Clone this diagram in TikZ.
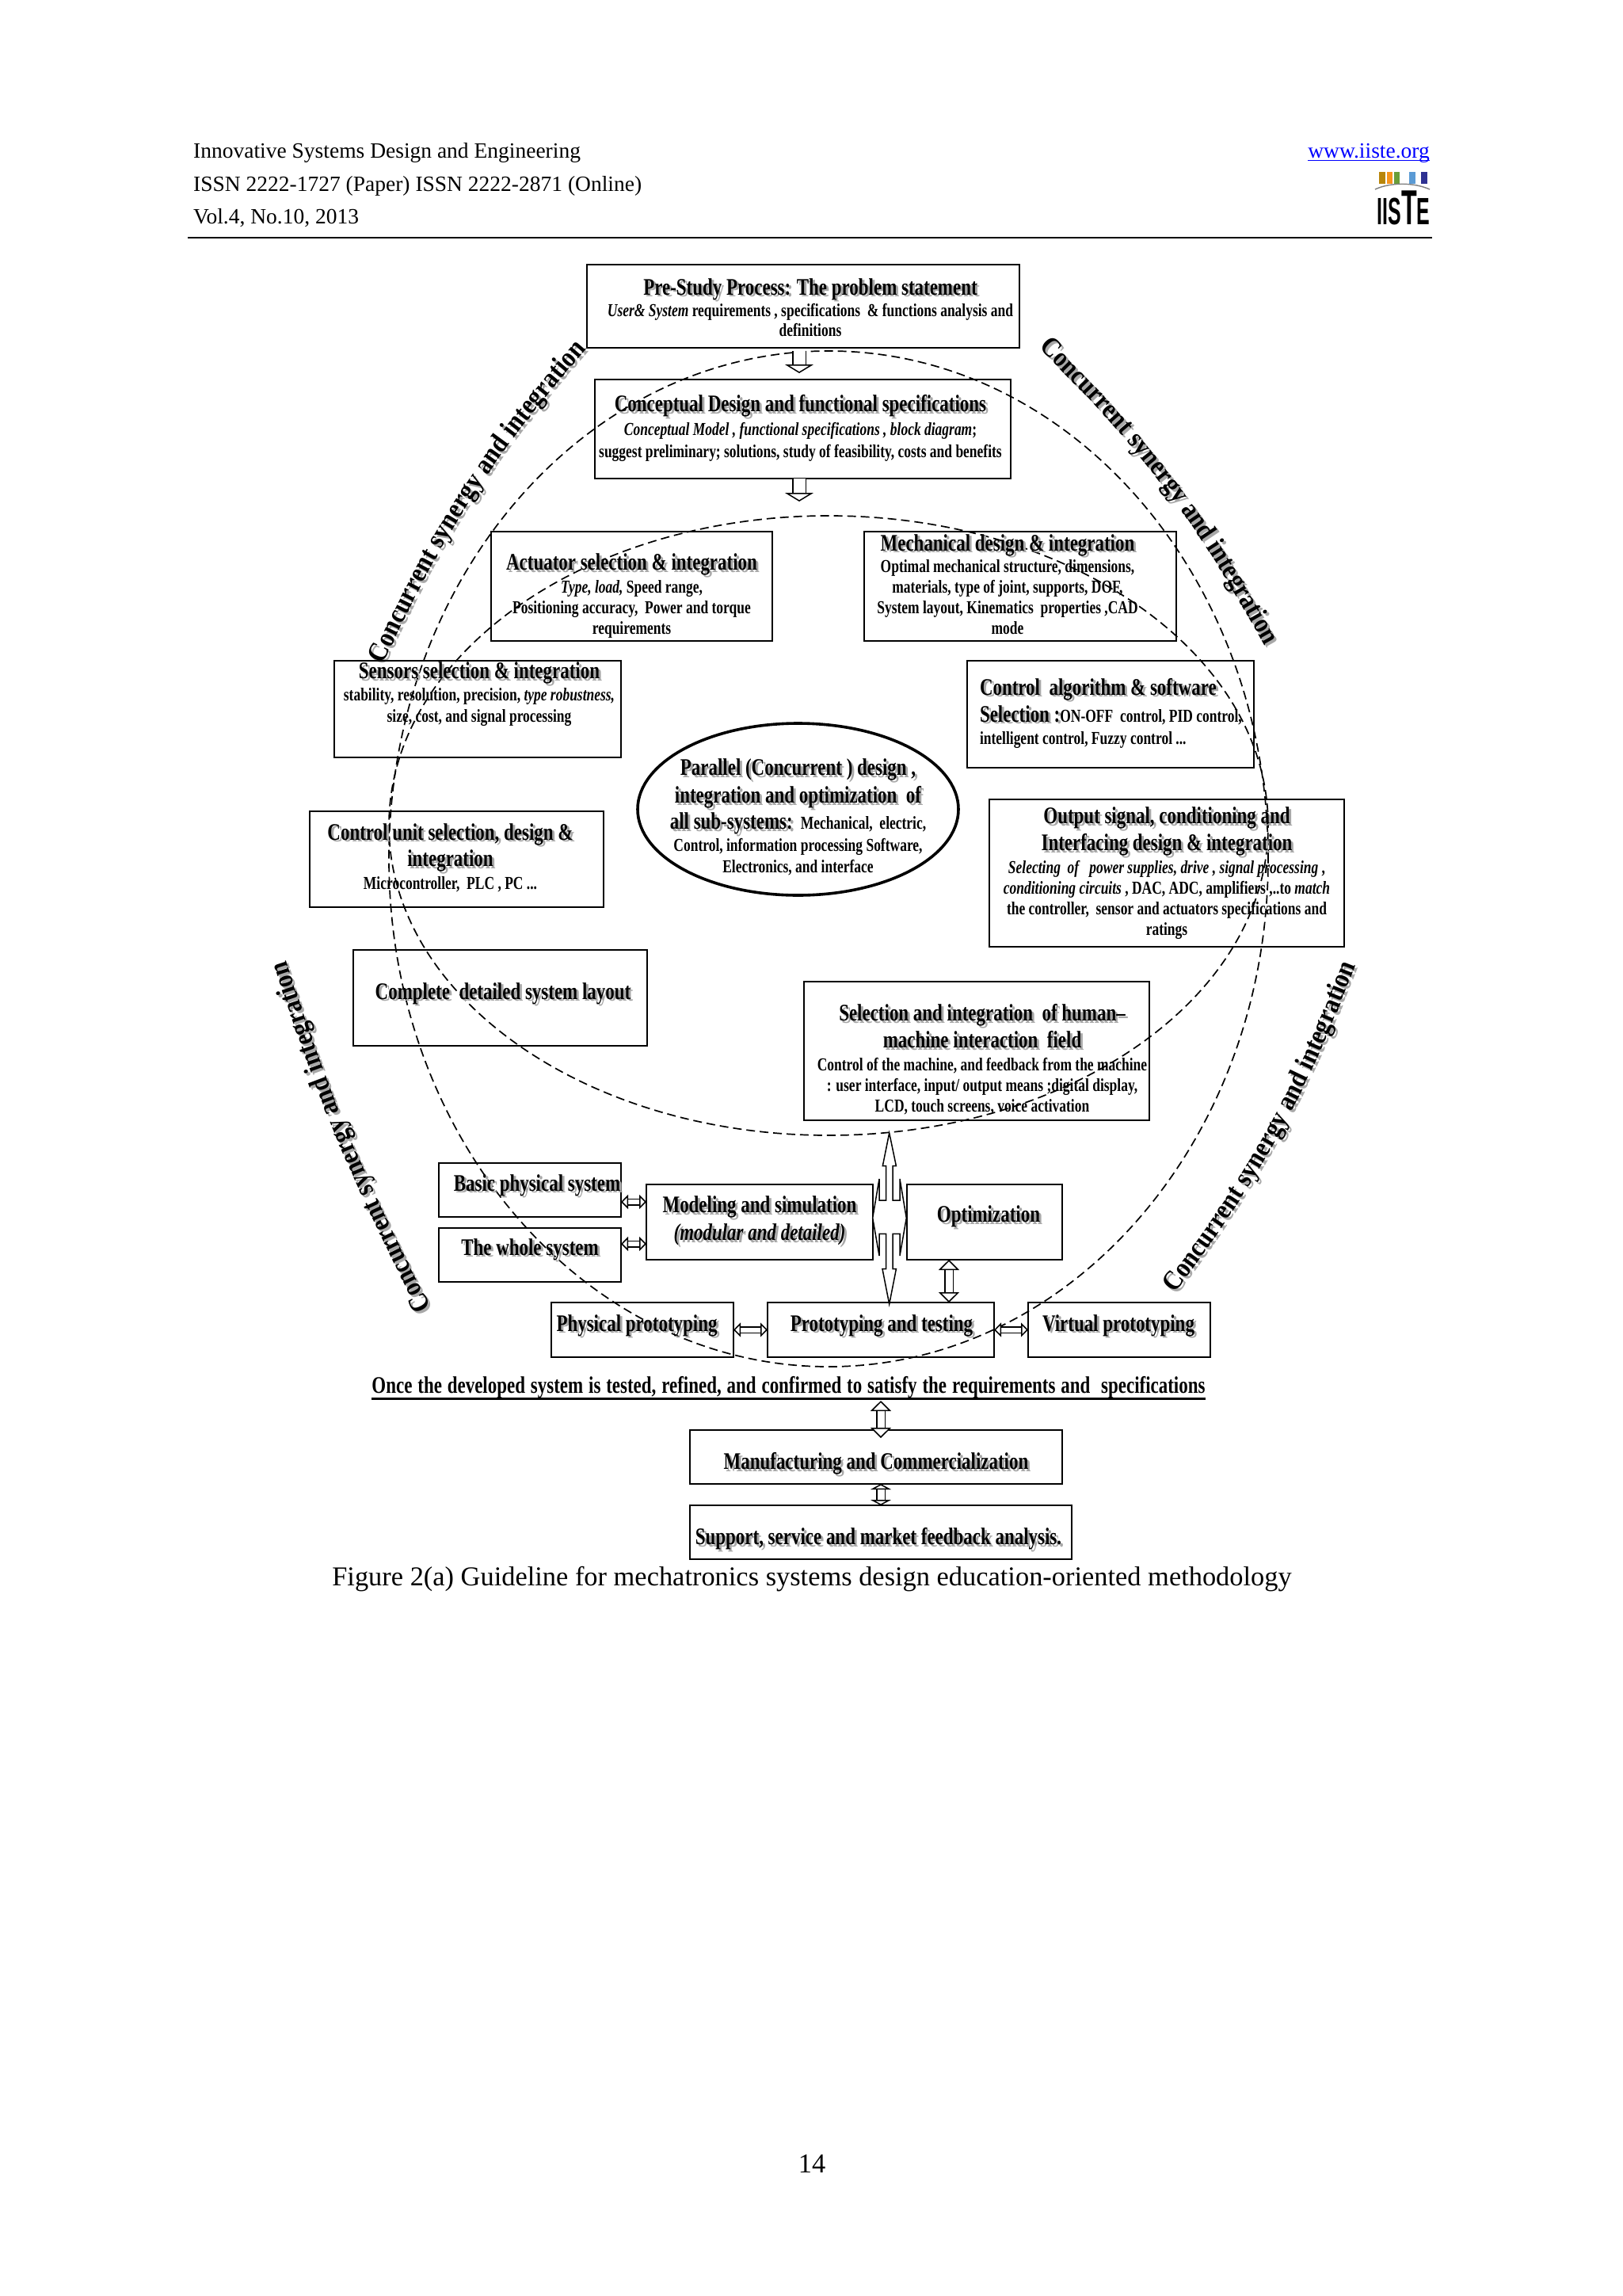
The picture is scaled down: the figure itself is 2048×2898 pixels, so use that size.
\documentclass[tikz,border=0pt]{standalone}
\usepackage{fontspec}
\usepackage{xcolor}
\setmainfont{Liberation Serif}
\newfontfamily\cf[FakeStretch=0.765]{Liberation Serif}
\newfontfamily\cs[FakeStretch=0.76]{Liberation Serif}
\newfontfamily\cvf[FakeStretch=0.88]{Liberation Serif}
\newfontfamily\logof[FakeStretch=0.52]{Liberation Sans}
\usetikzlibrary{arrows.meta,decorations.text,shapes.geometric}
\definecolor{shd}{gray}{0.66}
% inline fonts
\newcommand\shd[1]{\leavevmode\rlap{\raisebox{-2.5pt}{\kern3pt\textcolor{shd}{#1}}}#1}
\newcommand\ttl[1]{{\cf\bfseries\fontsize{30}{30}\selectfont\shd{#1}}}
\newcommand\subt[1]{{\cs\bfseries\fontsize{23}{23}\selectfont #1}}
% a line of a given pitch
\newcommand\lin[2]{\hbox to \hsize{\hss\vrule height .72\dimexpr#1pt\relax depth .28\dimexpr#1pt\relax width 0pt\smash{#2}\hss}}
\newcommand\linl[3]{\hbox to \hsize{\kern#2pt\vrule height .72\dimexpr#1pt\relax depth .28\dimexpr#1pt\relax width 0pt\smash{#3}\hss}}
\newcommand\ctext[4]{\setbox0=\vbox{\hsize=#1\offinterlineskip\parindent0pt #4}%
 \setbox2=\hbox to 0pt{\hss\kern#2pt\kern#2pt\lower\dimexpr(\ht0-\dp0)/2+#3pt\relax\box0\hss}%
 \ht2=0pt\dp2=0pt\box2}
% style, name, x1,y1,x2,y2, dx,dy, lines
\newcommand\bx[9]{\node[#1,minimum width={(#5-#3)*1pt},minimum height={(#6-#4)*1pt}] (#2) at ({(#3+#5)/2},{(#4+#6)/2}) {\ctext{\dimexpr#5pt-#3pt\relax}{#7}{#8}{#9}};}
\newcommand\curv[3]{%
 \path[decorate,decoration={text along path,text align=center,text={|\cvf\fontsize{35}{35}\selectfont\bfseries\color{shd}|Concurrent synergy and integration}}] ([shift={(3pt,-3pt)}]#1) to[#3] ([shift={(3pt,-3pt)}]#2);
 \path[decorate,decoration={text along path,text align=center,text={|\cvf\fontsize{35}{35}\selectfont\bfseries|Concurrent synergy and integration}}] (#1) to[#3] (#2);}
\tikzset{
 box/.style={draw=black,line width=2.2pt,rectangle,inner sep=0pt,outer sep=0pt},
 oval/.style={draw=black,line width=3.6pt,ellipse,inner sep=0pt,outer sep=0pt},
 dashring/.style={draw=black,line width=1.7pt,dash pattern=on 11pt off 6pt},
 harrow/.style={draw=black,double=white,double distance=6pt,line width=1.5pt,
  {Triangle[open,fill=white,width=18pt,length=9pt,line width=1.5pt]}-{Triangle[open,fill=white,width=18pt,length=9pt,line width=1.5pt]}},
 vharrow/.style={draw=black,double=white,double distance=9pt,line width=1.5pt,
  {Triangle[open,fill=white,width=26pt,length=13pt,line width=1.5pt]}-{Triangle[open,fill=white,width=26pt,length=13pt,line width=1.5pt]}},
 tinyvharrow/.style={draw=black,double=white,double distance=9pt,line width=1.5pt,
  {Triangle[open,fill=white,width=26pt,length=7pt,line width=1.5pt]}-{Triangle[open,fill=white,width=26pt,length=7pt,line width=1.5pt]}},
 downarrow/.style={draw=black,double=white,double distance=15pt,line width=1.5pt,
  -{Triangle[open,fill=white,width=36pt,length=11pt,line width=1.5pt]}},
 cross/.style={draw=black,fill=white,line width=1.5pt,line join=miter},
 hdr/.style={anchor=base west,inner sep=0pt,font=\fontsize{27.5}{27.5}\selectfont},
}
\begin{document}
\begin{tikzpicture}[x=1pt,y=-1pt]
\useasboundingbox[fill=white] (0,0) rectangle (2048,2898);
% header
\node[hdr] (h1) at (244,200) {Innovative Systems Design and Engineering};
\node[hdr] (h2) at (244,241) {ISSN 2222-1727 (Paper) ISSN 2222-2871 (Online)};
\node[hdr] (h3) at (244,282) {Vol.4, No.10, 2013};
\node[hdr,anchor=base east,text=blue] (h4) at (1805,200) {\setbox0\hbox{www.iiste.org}\rlap{\rule[-3pt]{\wd0}{1.4pt}}\box0};
\draw[line width=2.6pt] (237,300) -- (1808,300);
% logo
\fill[fill={rgb,255:red,184;green,134;blue,11}] (1740.7,217) rectangle (1748.7,232);
\fill[fill={rgb,255:red,247;green,148;blue,29}] (1750.7,217) rectangle (1758.3,232);
\fill[fill={rgb,255:red,106;green,158;blue,56}] (1760,217) rectangle (1767.3,232);
\fill[fill={rgb,255:red,91;green,155;blue,213}] (1779,217) rectangle (1786.7,232);
\fill[fill={rgb,255:red,46;green,49;blue,146}] (1794.3,217) rectangle (1801.7,232);
\draw[line width=1.4pt,draw=gray] (1736,239) .. controls (1755,230) and (1785,230) .. (1805,239);
\node[anchor=base,inner sep=0pt] (logo) at (1772,283) {\logof\bfseries\fontsize{48}{48}\selectfont IIS\raisebox{-.5pt}{\fontsize{62}{62}\selectfont T}E};
% dashed rings
\draw[dashring] (1046,1084) ellipse [x radius=555pt,y radius=641pt];
\draw[dashring] (1046,1042) ellipse [x radius=555pt,y radius=391pt];
% curved labels
\curv{484,838}{740,441}{bend left=8}
\curv{1310,437}{1598,817}{bend left=8}
\curv{552,1665}{356,1196}{bend left=5}
\curv{1479,1638}{1714,1212}{bend right=8}
% boxes
\bx{box}{pre}{741}{334}{1287}{439}{9}{4}{\lin{31}{\ttl{Pre-Study Process: The problem statement}}\lin{25}{\subt{\itshape User\& System \upshape requirements , specifications \ \& functions analysis and}}\lin{25}{\subt{definitions}}}
\bx{box}{concept}{751}{479}{1276}{604}{-3}{-1}{\lin{33}{\ttl{Conceptual Design and functional specifications}}\lin{29}{\subt{\itshape Conceptual Model , functional specifications , block diagram\upshape;}}\lin{27}{\subt{suggest preliminary; solutions, study of feasibility, costs and benefits}}}
\bx{box}{act}{620}{671}{975}{809}{0}{12}{\lin{33}{\ttl{Actuator selection \& integration}}\lin{27}{\subt{\itshape Type, load, \upshape Speed range,}}\lin{26}{\subt{Positioning accuracy, \ Power and torque}}\lin{26}{\subt{requirements}}}
\bx{box}{mech}{1091}{671}{1485}{809}{-16}{0}{\lin{32}{\ttl{Mechanical design \& integration}}\lin{26}{\subt{Optimal mechanical structure, dimensions,}}\lin{26}{\subt{materials, type of joint, supports, DOF,}}\lin{26}{\subt{System layout, Kinematics \ properties ,CAD}}\lin{26}{\subt{mode}}}
\bx{box}{sens}{422}{834}{784}{956}{2}{-19}{\lin{32}{\ttl{Sensors selection \& integration}}\lin{27}{\subt{stability, resolution, precision, \itshape type robustness,}}\lin{26}{\subt{size, cost, and signal processing}}}
\bx{box}{algo}{1221}{834}{1583}{969}{0}{-2}{\linl{36}{16}{\ttl{Control \ algorithm \& software}}\linl{33}{16}{\ttl{Selection :}\subt{ON-OFF \ control, PID control,}}\linl{27}{16}{\subt{intelligent control, Fuzzy control ...}}}
\bx{oval}{par}{805}{913}{1210}{1130}{0}{10}{\lin{35}{\ttl{Parallel (Concurrent ) design ,}}\lin{35}{\ttl{integration and optimization \ of}}\lin{32}{\ttl{all sub-systems:}\subt{ \ Mechanical, \ electric,}}\lin{27}{\subt{Control, information processing Software,}}\lin{27}{\subt{Electronics, and interface}}}
\bx{box}{cunit}{391}{1024}{762}{1145}{-8}{-2}{\lin{35}{\ttl{Control unit selection, design \&}}\lin{33}{\ttl{integration}}\lin{27}{\subt{Microcontroller, \ PLC , PC ...}}}
\bx{box}{output}{1249}{1009}{1697}{1195}{0}{-1}{\lin{36}{\ttl{Output signal, conditioning and}}\lin{33}{\ttl{Interfacing design \& integration}}\lin{27}{\subt{\itshape Selecting \ of \ \ power supplies, drive , signal processing \upshape,}}\lin{26}{\subt{\itshape conditioning circuits \upshape, DAC, ADC, amplifiers ,..to \itshape match}}\lin{26}{\subt{the controller, \ sensor and actuators specifications and}}\lin{26}{\subt{ratings}}}
\bx{box}{layout}{446}{1199}{817}{1320}{3.5}{-6}{\lin{36}{\ttl{Complete \ detailed system layout}}}
\bx{box}{human}{1015}{1239}{1451}{1414}{7}{10}{\lin{36}{\ttl{Selection and integration \ of human–}}\lin{33}{\ttl{machine interaction \ field}}\lin{27}{\subt{Control of the machine, and feedback from the machine}}\lin{26}{\subt{: user interface, input/ output means ;digital display,}}\lin{25}{\subt{LCD, touch screens, voice activation}}}
\bx{box}{basic}{554}{1468}{784}{1536}{9}{-6}{\lin{34}{\ttl{Basic physical system}}}
\bx{box}{whole}{554}{1550}{784}{1618}{0}{-7}{\lin{34}{\ttl{The whole system}}}
\bx{box}{model}{816}{1495}{1102}{1590}{0}{-2}{\lin{35}{\ttl{Modeling and simulation}}\lin{35}{\ttl{\itshape (modular and detailed)}}}
\bx{box}{optim}{1145}{1495}{1341}{1590}{5}{-7}{\lin{34}{\ttl{Optimization}}}
\bx{box}{phys}{696}{1644}{926}{1713}{-7}{-6}{\lin{34}{\ttl{Physical prototyping}}}
\bx{box}{proto}{969}{1644}{1255}{1713}{1}{-6}{\lin{34}{\ttl{Prototyping and testing}}}
\bx{box}{virt}{1298}{1644}{1528}{1713}{-1}{-6}{\lin{34}{\ttl{Virtual prototyping}}}
\node[inner sep=0pt] (once) at (995.5,1752) {{\cf\bfseries\fontsize{30}{30}\selectfont\spaceskip=6.9pt\setbox0\hbox{Once the developed system is tested, refined, and confirmed to satisfy the requirements and \ specifications}\rlap{\rule[-9pt]{\wd0}{3.4pt}}\box0}};
\bx{box}{manu}{871}{1805}{1341}{1873}{0}{8}{\lin{34}{\ttl{Manufacturing and Commercialization}}}
\bx{box}{supp}{871}{1900}{1353}{1968}{-3}{8}{\lin{34}{\ttl{Support, service and market feedback analysis.}}}
\node[inner sep=0pt,font=\fontsize{34.4}{34.4}\selectfont] (cap) at (1025,1993) {Figure 2(a) Guideline for mechatronics systems design education-oriented methodology};
\node[inner sep=0pt,font=\fontsize{34.4}{34.4}\selectfont] (pg) at (1025,2731) {14};
% connectors
\draw[downarrow,shorten <=4pt] ([xshift=-5pt]pre.south) -- ([xshift=-4.5pt,yshift=8pt]concept.north);
\coordinate (mid) at (1009,633);
\draw[downarrow] ([xshift=-4.5pt]concept.south) -- (mid);
\draw[harrow] ([yshift=-15pt]basic.east) -- ([yshift=25.5pt]model.west);
\draw[harrow] ([yshift=14pt]whole.east) -- ([yshift=-27.5pt]model.west);
\draw[harrow] (phys.east) -- (proto.west);
\draw[harrow] (proto.east) -- (virt.west);
\draw[vharrow] ([xshift=-45pt]optim.south) -- ([xshift=86pt]proto.north);
\coordinate (oncefoot) at (1112,1768);
\draw[vharrow] (oncefoot) -- ([xshift=6pt,yshift=-10pt]manu.north);
\draw[tinyvharrow] ([xshift=6pt]manu.south) -- (supp.north);
% four-way arrow
\coordinate (hub) at (1122.7,1537.3);
\draw[cross,shift={(hub)}] (0,-107.3) -- (8.7,-65.6) -- (4.3,-65.6) -- (4.3,-22.3) -- (13.3,-22.3) -- (13.3,-49.3) -- (21.6,0) -- (13.3,47.7) -- (13.3,20) -- (4.3,20) -- (4.3,64.4) -- (8.7,64.4) -- (0,108.7) -- (-8.7,64.4) -- (-4,64.4) -- (-4,20) -- (-12.7,20) -- (-12.7,47.7) -- (-21,0) -- (-12.7,-49.3) -- (-12.7,-22.3) -- (-4,-22.3) -- (-4,-65.6) -- (-8.4,-65.6) -- cycle;
\end{tikzpicture}
\end{document}
